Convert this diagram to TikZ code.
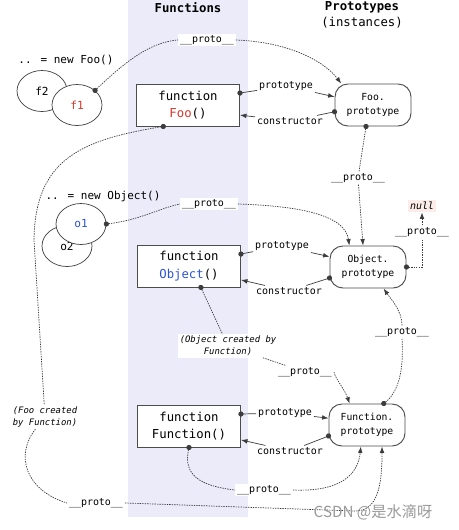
\documentclass[tikz,border=0pt]{standalone}
\usepackage{fontspec}
\setmainfont{DejaVu Sans Mono}
\newfontfamily\cjk{Noto Sans CJK SC}
\usetikzlibrary{arrows.meta,shapes.geometric}

\definecolor{band}{RGB}{235,235,250}
\definecolor{fooRed}{RGB}{214,56,44}
\definecolor{objBlue}{RGB}{44,84,208}
\definecolor{nullPink}{RGB}{251,236,234}
\definecolor{linkgray}{RGB}{60,60,60}

\newcommand\protoname{\_\_proto\_\_}

\tikzset{
  fnbox/.style={rectangle,draw=black!70,line width=0.8pt,fill=white,minimum width=3.09cm,minimum height=1.26cm,align=center,font=\fontsize{10.5}{15}\selectfont},
  protobox/.style={rectangle,rounded corners=11pt,draw=black!70,line width=0.8pt,fill=white,minimum width=2.28cm,minimum height=1.26cm,align=center,font=\fontsize{8.3}{12}\selectfont},
  inst/.style={ellipse,draw=black!75,line width=0.6pt,fill=white,minimum width=1.5cm,minimum height=1.23cm,inner sep=0pt,font=\fontsize{9.5}{11}\selectfont},
  lbl/.style={fill=white,inner sep=1.5pt,align=center,font=\fontsize{8.5}{10}\selectfont},
  link/.style={draw=linkgray,line width=0.6pt},
  dlink/.style={link,dash pattern=on 1.2pt off 0.9pt},
  startdot/.style={{Circle[length=4.4pt]}-,shorten <=-2.2pt},
  endarrow/.style={-{Latex[length=5.5pt,width=4pt]}},
}

\begin{document}
\begin{tikzpicture}[x=0.03cm,y=-0.03cm]
  \useasboundingbox (0,0) rectangle (459,530);
  \fill[band] (128,0) rectangle (248,517);

  \begin{scope}[every node/.style={align=center,font=\fontsize{10.5}{13.6}\selectfont}]
    \node (fnTitle)    at (188,8)  {\textbf{Functions}};
    \node (protoTitle) at (362,15) {\textbf{Prototypes}\\(instances)};
  \end{scope}

  \begin{scope}[every node/.style={font=\fontsize{9.4}{11}\selectfont}]
    \node (newFoo) at (66,60)  {.. = new Foo()};
    \node (newObj) at (103,196) {.. = new Object()};
  \end{scope}

  \node[inst] (f2) at (42,91)  {f2};
  \node[inst] (f1) at (77,105) {\textcolor{fooRed}{f1}};
  \node[inst] (o2) at (67,246) {o2};
  \node[inst] (o1) at (81,224) {\textcolor{objBlue}{o1}};

  \node[fnbox] (foo)      at (188,105) {function\\\textcolor{fooRed}{Foo}()};
  \node[fnbox] (object)   at (189,266) {function\\\textcolor{objBlue}{Object}()};
  \node[fnbox] (function) at (189,426) {function\\Function()};

  \node[protobox] (fooP) at (373,105) {Foo.\\prototype};
  \node[protobox] (objP) at (368,267) {Object.\\prototype};
  \node[protobox] (funP) at (367,425) {Function.\\prototype};

  \node[fill=nullPink,inner sep=2pt,font=\itshape\fontsize{8.5}{10}\selectfont] (null) at (422,206) {null};

  \begin{scope}[every node/.style=lbl]
    \node (fooProto)   at (207,40)  {\protoname};
    \node (fooPt)      at (286,86)  {prototype};
    \node (fooCt)      at (290,121) {constructor};
    \node (fooPP)      at (358,178) {\protoname};
    \node (objProto)   at (209,204) {\protoname};
    \node (objPt)      at (282,246) {prototype};
    \node (objCt)      at (289,291) {constructor};
    \node (nullProto)  at (422,232) {\protoname};
    \node[font=\itshape\fontsize{7.6}{10}\selectfont] (objFn) at (228,346) {(Object created by\\Function)};
    \node (objFnProto) at (305,372) {\protoname};
    \node (funPP)      at (402,332) {\protoname};
    \node (funPt)      at (285,413) {prototype};
    \node (funCt)      at (290,451) {constructor};
    \node (funProto)   at (264,490) {\protoname};
    \node[font=\itshape\fontsize{7.6}{10}\selectfont] (fooFn) at (45,417) {(Foo created\\by Function)};
    \node (fooFnProto) at (96,503)  {\protoname};
  \end{scope}

  \draw[dlink,startdot] (f1.39) .. controls (125,62) and (150,42) .. (fooProto.west);
  \draw[dlink,endarrow] (fooProto.east) .. controls (290,42) and (325,62) .. (fooP.146);

  \draw[link,startdot] (foo.13) -- (fooPt);
  \draw[link,endarrow] (fooPt) -- (fooP.168);
  \draw[link,startdot] (fooP.190) -- (fooCt);
  \draw[link,endarrow] (fooCt) -- (foo.-11);

  \draw[dlink,startdot] (fooP.252) -- (fooPP);
  \draw[dlink,endarrow] (fooPP) -- (objP.103);

  \draw[dlink,startdot] (o1.east) .. controls (140,220) and (160,208) .. (objProto.west);
  \draw[dlink,endarrow] (objProto.east) .. controls (300,206) and (345,215) .. (objP.131);

  \draw[link,startdot] (object.13) -- (objPt);
  \draw[link,endarrow] (objPt) -- (objP.165);
  \draw[link,startdot] (objP.196) -- (objCt);
  \draw[link,endarrow] (objCt) -- (object.-15);

  \draw[dlink,startdot] (objP.east) -| (nullProto.south);
  \draw[dlink,endarrow] (nullProto.north) -- (null.south);

  \draw[dlink,startdot] (object.-61) -- (objFn);
  \draw[dlink] (objFn) -- (objFnProto);
  \draw[dlink,endarrow] (objFnProto.east) .. controls (335,378) and (345,390) .. (funP.129);

  \draw[dlink,startdot] (funP.52) .. controls (398,392) and (404,372) .. (funPP.south);
  \draw[dlink,endarrow] (funPP.north) .. controls (402,310) and (390,298) .. (objP.-54);

  \draw[link,startdot] (function.13) -- (funPt);
  \draw[link,endarrow] (funPt) -- (funP.170);
  \draw[link,startdot] (funP.196) -- (funCt);
  \draw[link,endarrow] (funCt) -- (function.-15);

  \draw[dlink,startdot] (function.south) .. controls (183,475) and (200,486) .. (funProto.west);
  \draw[dlink,endarrow] (funProto.east) .. controls (340,492) and (358,475) .. (funP.254);

  \draw[dlink,startdot] (foo.221) .. controls (80,140) and (35,160) .. (34,240) -- (fooFn);
  \draw[dlink] (fooFn) .. controls (15,455) and (25,490) .. (fooFnProto.west);
  \draw[dlink,endarrow] (fooFnProto.east) -- (355,511) .. controls (378,511) and (382,485) .. (funP.-55);

  \node[text=black!40,font=\cjk\fontsize{13}{15}\selectfont] (mark) at (373,512) {CSDN @是水滴呀};
\end{tikzpicture}
\end{document}
